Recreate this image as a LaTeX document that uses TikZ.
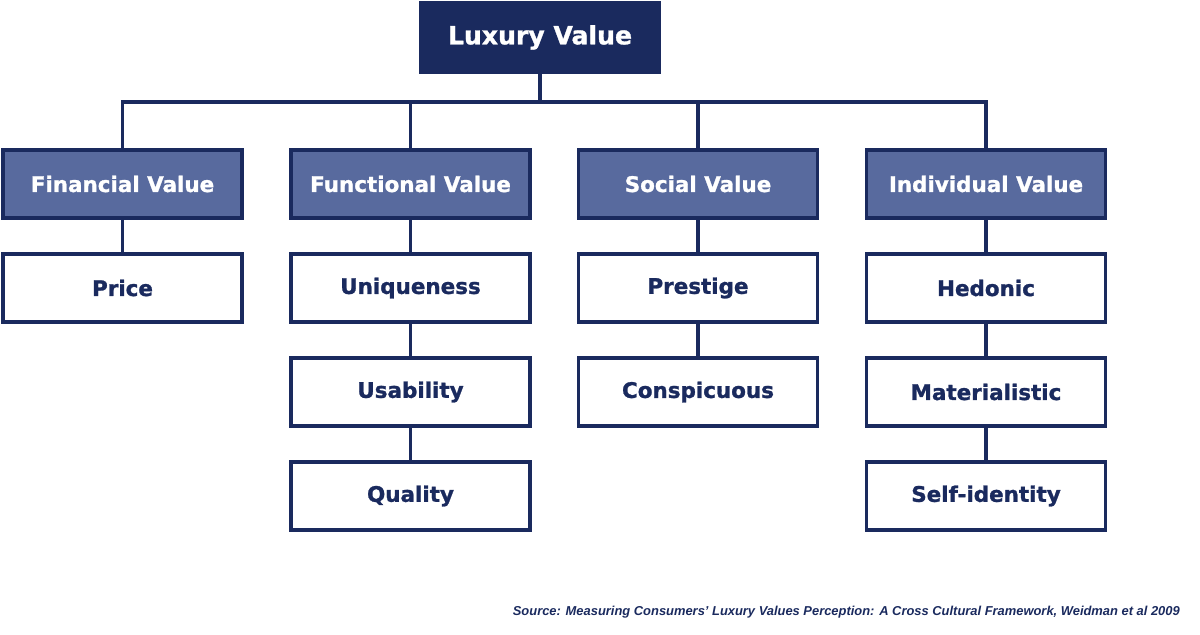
\documentclass[tikz,border=0pt]{standalone}
\usepackage{fontspec}
\setmainfont{DejaVu Sans}[BoldFeatures={FakeBold=1.2}]
\newfontfamily\srcfont{Liberation Sans}
\usepackage{xcolor}
\usepackage{tikz}
\definecolor{navy}{RGB}{26,42,94}
\definecolor{midblue}{RGB}{88,106,158}
\tikzset{
  topbox/.style={draw=navy,fill=navy,line width=1.4pt,minimum width=4.8cm,minimum height=1.42cm,text=white,font=\fontsize{14.3}{16}\bfseries},
  valbox/.style={draw=navy,fill=midblue,line width=1.9pt,minimum width=4.78cm,minimum height=1.36cm,text=white,font=\fontsize{12.2}{14}\bfseries},
  itembox/.style={draw=navy,fill=white,line width=1.9pt,minimum width=4.78cm,minimum height=1.36cm,text=navy,font=\fontsize{12.2}{14}\bfseries},
  link/.style={draw=navy,line width=1.9pt}
}

\begin{document}
\begin{tikzpicture}[x=0.02cm,y=-0.02cm]
\path[use as bounding box] (0,0) rectangle (1200,635);

% root
\node[topbox] (lux) at (540,37.5) {Luxury Value};

% value dimensions
\node[valbox] (fin) at (122.5,184) {Financial Value};
\node[valbox] (fun) at (410.5,184) {Functional Value};
\node[valbox] (soc) at (698,184) {Social Value};
\node[valbox] (ind) at (986,184) {Individual Value};

% items
\node[itembox] (price) at (122.5,288) {Price};
\node[itembox] (uniq) at (410.5,288) {Uniqueness};
\node[itembox] (usab) at (410.5,392) {Usability};
\node[itembox] (qual) at (410.5,496) {Quality};
\node[itembox] (pres) at (698,288) {Prestige};
\node[itembox] (consp) at (698,392) {Conspicuous};
\node[itembox] (hedo) at (986,288) {Hedonic};
\node[itembox] (mat) at (986,392) {Materialistic};
\node[itembox] (self) at (986,496) {Self-identity};

% tree connectors
\coordinate (bus) at (540,102);
\foreach \v in {fin,fun,soc,ind}{
  \draw[link] (lux.south) -- (bus) -| (\v.north);
}
\draw[link] (fin) -- (price);
\draw[link] (fun) -- (uniq);
\draw[link] (uniq) -- (usab);
\draw[link] (usab) -- (qual);
\draw[link] (soc) -- (pres);
\draw[link] (pres) -- (consp);
\draw[link] (ind) -- (hedo);
\draw[link] (hedo) -- (mat);
\draw[link] (mat) -- (self);

% source note
\node[anchor=east,text=navy,font=\srcfont\fontsize{7.35}{9}\bfseries\itshape] (src) at (1186,612)
  {Source: Measuring Consumers’ Luxury Values Perception: A Cross Cultural Framework, Weidman et al 2009};
\end{tikzpicture}
\end{document}
